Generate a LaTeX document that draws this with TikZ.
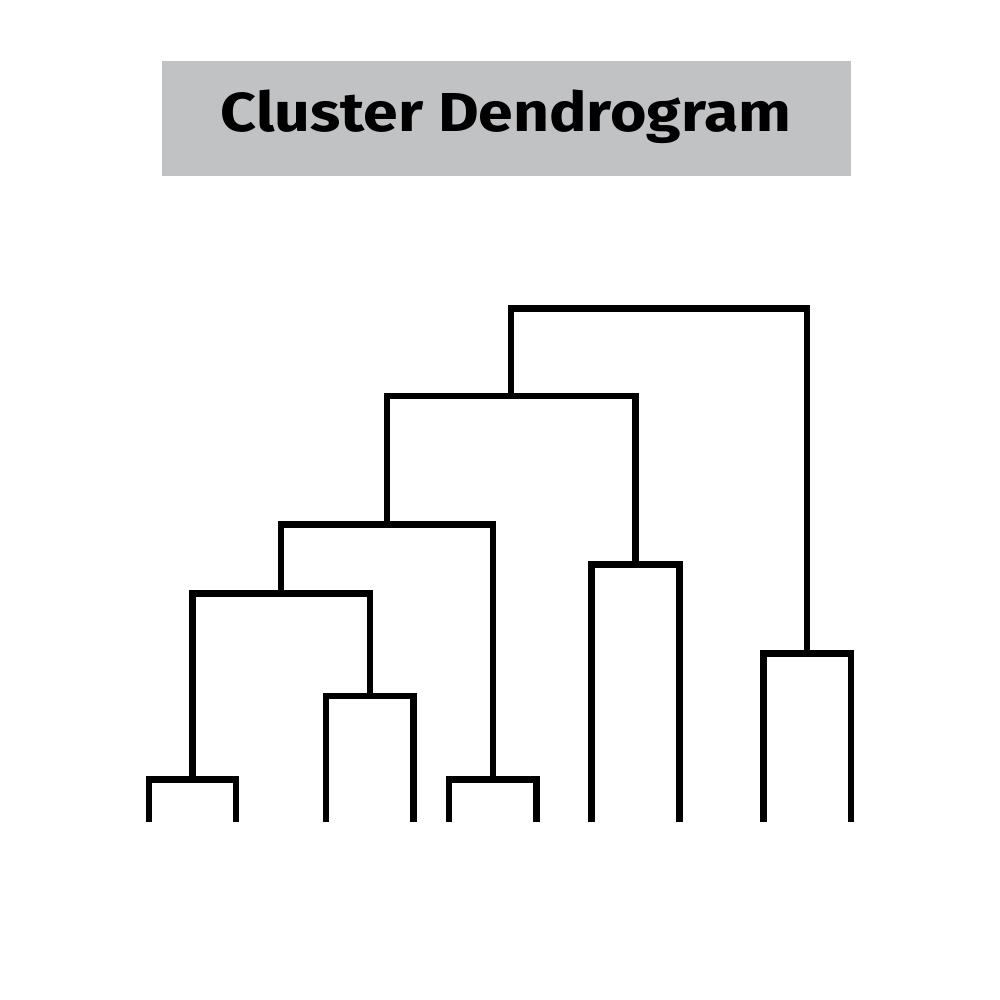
\documentclass[tikz,border=0pt]{standalone}
\usepackage{fontspec}
\setmainfont{Fira Sans}
\definecolor{titlegray}{RGB}{193,194,196}
\begin{document}
\begin{tikzpicture}[x=0.01cm,y=-0.01cm,
  branch/.style={line width=0.063cm,line cap=butt,line join=miter,black},
  titlebox/.style={fill=titlegray,draw=none,minimum width=6.89cm,minimum height=1.15cm,inner sep=0pt}]
\useasboundingbox (0,0) rectangle (1000,1000);
\fill[white] (0,0) rectangle (1000,1000);
% title
\node[titlebox] (title) at (506.5,118.5) {};
\node[anchor=base,inner sep=0pt,font=\fontsize{15.6pt}{18pt}\selectfont\bfseries] (titletext) at (506,131.5) {\scalebox{1.14}[1]{Cluster Dendrogram}};
% leaves
\coordinate (l1) at (149,822);
\coordinate (l2) at (236,822);
\coordinate (l3) at (326,822);
\coordinate (l4) at (413.5,822);
\coordinate (l5) at (449,822);
\coordinate (l6) at (536.5,822);
\coordinate (l7) at (591.5,822);
\coordinate (l8) at (679.5,822);
\coordinate (l9) at (763.5,822);
\coordinate (l10) at (851,822);
% merges
\coordinate (m1) at (192.5,779.5);
\coordinate (m2) at (369.75,696);
\coordinate (m3) at (492.75,779.5);
\coordinate (m4) at (635.5,564.5);
\coordinate (m5) at (807.25,653.5);
\coordinate (m12) at (281,593.5);
\coordinate (m123) at (386.9,524.5);
\coordinate (m1234) at (511.2,396);
\coordinate (root) at (659,308.5);
% branches
\draw[branch] (l1) |- (m1) -| (l2);
\draw[branch] (l3) |- (m2) -| (l4);
\draw[branch] (l5) |- (m3) -| (l6);
\draw[branch] (l7) |- (m4) -| (l8);
\draw[branch] (l9) |- (m5) -| (l10);
\draw[branch] (m1) |- (m12) -| (m2);
\draw[branch] (m12) |- (m123) -| (m3);
\draw[branch] (m123) |- (m1234) -| (m4);
\draw[branch] (m1234) |- (root) -| (m5);
\end{tikzpicture}
\end{document}
